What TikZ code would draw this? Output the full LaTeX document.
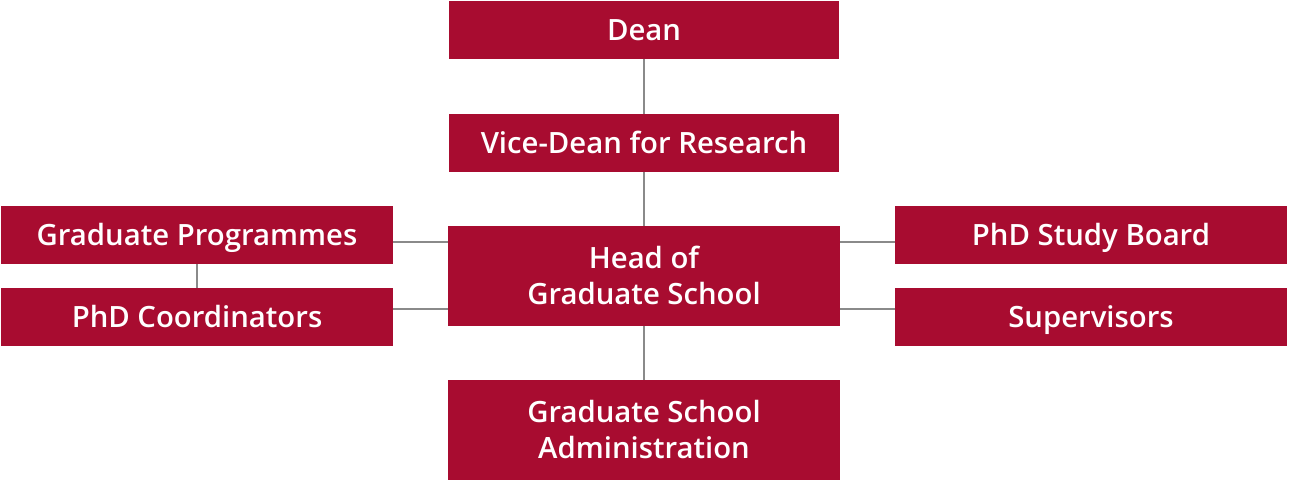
\documentclass[tikz,border=0pt]{standalone}
\usepackage{fontspec}
\setmainfont{Open Sans}
\def\boxsize{30}
\IfFontExistsTF{OpenSans-SemiBold.ttf}
  {\newfontfamily\semibf{OpenSans-SemiBold.ttf}\def\boxsize{29.3}}
  {\IfFontExistsTF{OpenSans-Semibold.ttf}
    {\newfontfamily\semibf{OpenSans-Semibold.ttf}\def\boxsize{29.3}}
    {\IfFontExistsTF{Open Sans Semibold}
      {\newfontfamily\semibf{Open Sans Semibold}\def\boxsize{29.3}}
      {\newfontfamily\semibf{Open Sans}}}}
\definecolor{crimson}{HTML}{A80C30}
\definecolor{linegray}{HTML}{8A8A8A}
\begin{document}
\begin{tikzpicture}[x=1pt,y=-1pt,
  box/.style={fill=crimson,draw=none,text=white,align=center,inner sep=0pt,
    font=\semibf\fontsize{\boxsize}{36.5}\selectfont,text height=21pt,text depth=0pt},
  two/.style={text height=57.5pt},
  conn/.style={draw=linegray,line width=2pt}]
\useasboundingbox (0,0) rectangle (1289,481);
\node[box,minimum width=390pt,minimum height=58pt] (dean) at (644,30) {Dean};
\node[box,minimum width=390pt,minimum height=58pt] (vice) at (644,143) {Vice-Dean for Research};
\node[box,two,minimum width=392pt,minimum height=100pt] (head) at (644,276) {Head of\\Graduate School};
\node[box,two,minimum width=392pt,minimum height=100pt] (admin) at (644,430) {Graduate School\\Administration};
\node[box,minimum width=392pt,minimum height=58pt] (gp) at (197,235) {Graduate Programmes};
\node[box,minimum width=392pt,minimum height=58pt] (pc) at (197,317) {PhD Coordinators};
\node[box,minimum width=392pt,minimum height=58pt] (psb) at (1091,235) {PhD Study Board};
\node[box,minimum width=392pt,minimum height=58pt] (sup) at (1091,317) {Supervisors};
\draw[conn] (dean.south) -- (vice.north);
\draw[conn] (vice.south) -- (head.north);
\draw[conn] (head.south) -- (admin.north);
\draw[conn] (gp.south) -- (pc.north);
\draw[conn] ([yshift=34pt]head.west) -- ([yshift=34pt]head.west -| gp.east);
\draw[conn] ([yshift=-33pt]head.west) -- ([yshift=-33pt]head.west -| pc.east);
\draw[conn] ([yshift=34pt]head.east) -- ([yshift=34pt]head.east -| psb.west);
\draw[conn] ([yshift=-33pt]head.east) -- ([yshift=-33pt]head.east -| sup.west);
\end{tikzpicture}
\end{document}
